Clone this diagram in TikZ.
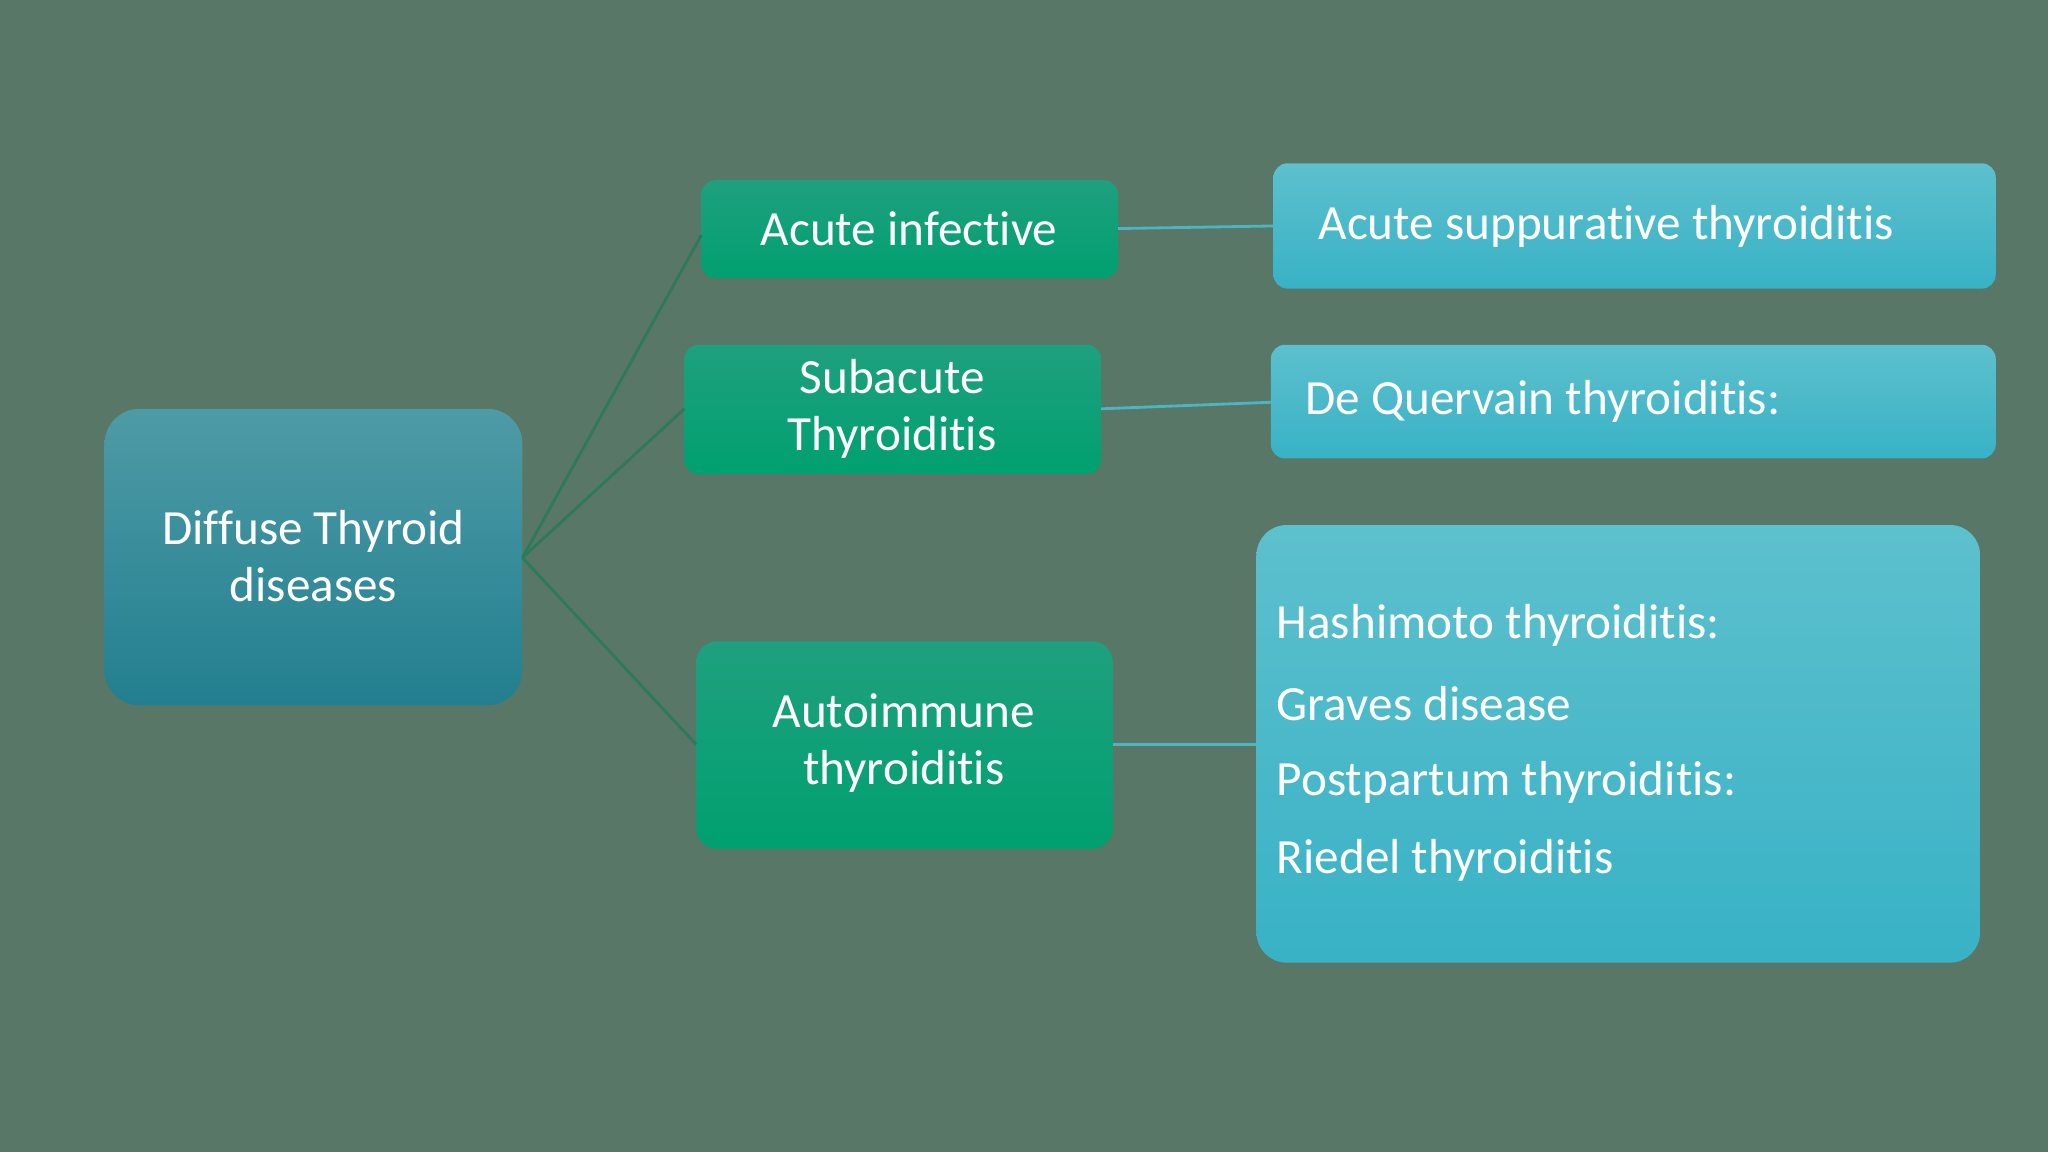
\documentclass[tikz,border=0pt]{standalone}
\usepackage{fontspec}
\setmainfont[Ligatures={NoCommon}]{Carlito}
\begin{document}
\begin{tikzpicture}[x=0.013061cm,y=-0.013061cm,
  txt/.style={text=white,font=\fontsize{14}{16.2}\selectfont,align=center}]
\definecolor{bg}{HTML}{587766}
\definecolor{g1}{HTML}{1FA07E}\definecolor{g2}{HTML}{00A070}
\definecolor{b1}{HTML}{5DC0CD}\definecolor{b2}{HTML}{38B2C6}
\definecolor{d1}{HTML}{4E9BA6}\definecolor{d2}{HTML}{227F8F}
\definecolor{ln1}{HTML}{2D7A5A}\definecolor{ln2}{HTML}{4DB4C4}
\fill[bg] (0,0) rectangle (1568,882);
\path[use as bounding box] (0,0) rectangle (1568,882);
\shade[rounded corners=10pt,top color=d1,bottom color=d2] (80,313) rectangle (400,540);
\node[txt] (d) at (240,426) {Diffuse Thyroid\\diseases};
\coordinate (dr) at (400,427);
\shade[rounded corners=4pt,top color=g1,bottom color=g2] (537,138) rectangle (856,213);
\node[txt] (a) at (696,175) {Acute infective};
\shade[rounded corners=4pt,top color=g1,bottom color=g2] (524,264) rectangle (843,363);
\node[txt] (s) at (683,313) {Subacute\\Thyroiditis};
\shade[rounded corners=6pt,top color=g1,bottom color=g2] (533,491) rectangle (852,650);
\node[txt] (m) at (692,569) {Autoimmune\\thyroiditis};
\shade[rounded corners=4pt,top color=b1,bottom color=b2] (975,125) rectangle (1528,221);
\node[txt,anchor=west] (as) at (1000,173) {Acute suppurative thyroiditis};
\shade[rounded corners=4pt,top color=b1,bottom color=b2] (973,264) rectangle (1528,351);
\node[txt,anchor=west] (dq) at (990,307) {De Quervain thyroiditis:};
\shade[rounded corners=0.3cm,top color=b1,bottom color=b2] (962,402) rectangle (1516,737);
\node[txt,anchor=west] (h) at (968,479) {Hashimoto thyroiditis:};
\node[txt,anchor=west] (g) at (968,539) {Graves disease};
\node[txt,anchor=west] (p) at (968,599) {Postpartum thyroiditis:};
\node[txt,anchor=west] (r) at (968,659) {Riedel thyroiditis};
\coordinate (a1) at (537,180); \coordinate (s1) at (524,313); \coordinate (m1) at (533,570);
\draw[ln1,line width=0.8pt] (dr) -- (a1);
\draw[ln1,line width=0.8pt] (dr) -- (s1);
\draw[ln1,line width=0.8pt] (dr) -- (m1);
\coordinate (a2) at (856,175); \coordinate (as1) at (975,173);
\coordinate (s2) at (843,313); \coordinate (dq1) at (973,308);
\coordinate (m2) at (852,570); \coordinate (b1c) at (962,570);
\draw[ln2,line width=0.8pt] (a2) -- (as1);
\draw[ln2,line width=0.8pt] (s2) -- (dq1);
\draw[ln2,line width=0.8pt] (m2) -- (b1c);
\end{tikzpicture}
\end{document}
